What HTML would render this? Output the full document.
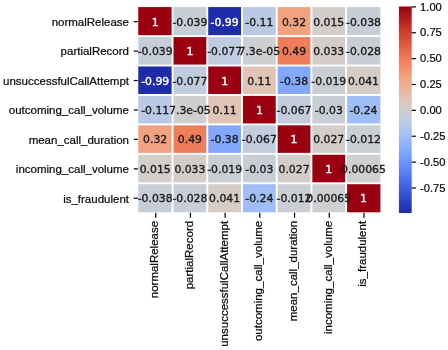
<!DOCTYPE html>
<html><head><meta charset="utf-8"><title>heatmap</title>
<style>
html,body{margin:0;padding:0;background:#fff;}
svg{display:block;filter:blur(0.3px);}
.t{font-family:"Liberation Sans",Arial,sans-serif;font-size:11.5px;fill:#0a0a0a;stroke:#0a0a0a;stroke-width:0.22px;}
.a{font-family:"DejaVu Sans","Liberation Sans",sans-serif;font-size:10.85px;text-anchor:middle;stroke-width:0.38px;}
.k{stroke:#0a0a0a;stroke-width:1.25;}
</style></head><body>
<svg width="448" height="350" viewBox="0 0 448 350">
<defs><linearGradient id="cb" x1="0" y1="1" x2="0" y2="0">
<stop offset="0.0000" stop-color="#1e2ca9"/><stop offset="0.0312" stop-color="#2538b9"/><stop offset="0.0625" stop-color="#2d45c8"/><stop offset="0.0938" stop-color="#3653d5"/><stop offset="0.1250" stop-color="#4060e1"/><stop offset="0.1562" stop-color="#4a6eeb"/><stop offset="0.1875" stop-color="#557bf3"/><stop offset="0.2188" stop-color="#6088fa"/><stop offset="0.2500" stop-color="#6c95fd"/><stop offset="0.2812" stop-color="#79a1ff"/><stop offset="0.3125" stop-color="#86acfe"/><stop offset="0.3438" stop-color="#93b5fb"/><stop offset="0.3750" stop-color="#a0bef6"/><stop offset="0.4062" stop-color="#acc4ef"/><stop offset="0.4375" stop-color="#b9cae6"/><stop offset="0.4688" stop-color="#c4cddb"/><stop offset="0.5000" stop-color="#cfcece"/><stop offset="0.5312" stop-color="#dbc9be"/><stop offset="0.5625" stop-color="#e4c1af"/><stop offset="0.5938" stop-color="#ebb89f"/><stop offset="0.6250" stop-color="#f0ae90"/><stop offset="0.6562" stop-color="#f3a281"/><stop offset="0.6875" stop-color="#f49572"/><stop offset="0.7188" stop-color="#f38764"/><stop offset="0.7500" stop-color="#ef7957"/><stop offset="0.7812" stop-color="#ea6a4b"/><stop offset="0.8125" stop-color="#e25b40"/><stop offset="0.8438" stop-color="#d94c35"/><stop offset="0.8750" stop-color="#cf3d2c"/><stop offset="0.9062" stop-color="#c32e23"/><stop offset="0.9375" stop-color="#b51f1c"/><stop offset="0.9688" stop-color="#a70f15"/><stop offset="1.0000" stop-color="#9a0110"/>
</linearGradient></defs>
<rect x="0" y="0" width="448" height="350" fill="#fff"/>
<rect x="138.25" y="7.07" width="33.36" height="28.08" fill="#9a0110"/>
<rect x="173.51" y="7.07" width="32.81" height="28.08" fill="#c7ced7"/>
<rect x="208.22" y="7.07" width="32.81" height="28.08" fill="#1e2ca9"/>
<rect x="242.93" y="7.07" width="32.81" height="28.08" fill="#bacae4"/>
<rect x="277.64" y="7.07" width="32.81" height="28.08" fill="#f3a281"/>
<rect x="312.35" y="7.07" width="32.81" height="28.08" fill="#d1cecc"/>
<rect x="347.06" y="7.07" width="33.36" height="28.08" fill="#c7ced7"/>
<rect x="138.25" y="37.05" width="33.36" height="27.53" fill="#c7ced7"/>
<rect x="173.51" y="37.05" width="32.81" height="27.53" fill="#9a0110"/>
<rect x="208.22" y="37.05" width="32.81" height="27.53" fill="#c0ccdf"/>
<rect x="242.93" y="37.05" width="32.81" height="27.53" fill="#cecfd0"/>
<rect x="277.64" y="37.05" width="32.81" height="27.53" fill="#f07d5a"/>
<rect x="312.35" y="37.05" width="32.81" height="27.53" fill="#d4ccc8"/>
<rect x="347.06" y="37.05" width="33.36" height="27.53" fill="#c9ced6"/>
<rect x="138.25" y="66.48" width="33.36" height="27.53" fill="#1e2ca9"/>
<rect x="173.51" y="66.48" width="32.81" height="27.53" fill="#c0ccdf"/>
<rect x="208.22" y="66.48" width="32.81" height="27.53" fill="#9a0110"/>
<rect x="242.93" y="66.48" width="32.81" height="27.53" fill="#e1c4b5"/>
<rect x="277.64" y="66.48" width="32.81" height="27.53" fill="#83a9fe"/>
<rect x="312.35" y="66.48" width="32.81" height="27.53" fill="#caced4"/>
<rect x="347.06" y="66.48" width="33.36" height="27.53" fill="#d5ccc6"/>
<rect x="138.25" y="95.91" width="33.36" height="27.53" fill="#bacae4"/>
<rect x="173.51" y="95.91" width="32.81" height="27.53" fill="#cecfd0"/>
<rect x="208.22" y="95.91" width="32.81" height="27.53" fill="#e1c4b5"/>
<rect x="242.93" y="95.91" width="32.81" height="27.53" fill="#9a0110"/>
<rect x="277.64" y="95.91" width="32.81" height="27.53" fill="#c2ccdd"/>
<rect x="312.35" y="95.91" width="32.81" height="27.53" fill="#c9ced6"/>
<rect x="347.06" y="95.91" width="33.36" height="27.53" fill="#a0bef6"/>
<rect x="138.25" y="125.34" width="33.36" height="27.53" fill="#f3a281"/>
<rect x="173.51" y="125.34" width="32.81" height="27.53" fill="#f07d5a"/>
<rect x="208.22" y="125.34" width="32.81" height="27.53" fill="#83a9fe"/>
<rect x="242.93" y="125.34" width="32.81" height="27.53" fill="#c2ccdd"/>
<rect x="277.64" y="125.34" width="32.81" height="27.53" fill="#9a0110"/>
<rect x="312.35" y="125.34" width="32.81" height="27.53" fill="#d2cdca"/>
<rect x="347.06" y="125.34" width="33.36" height="27.53" fill="#cbced3"/>
<rect x="138.25" y="154.77" width="33.36" height="27.53" fill="#d1cecc"/>
<rect x="173.51" y="154.77" width="32.81" height="27.53" fill="#d4ccc8"/>
<rect x="208.22" y="154.77" width="32.81" height="27.53" fill="#caced4"/>
<rect x="242.93" y="154.77" width="32.81" height="27.53" fill="#c9ced6"/>
<rect x="277.64" y="154.77" width="32.81" height="27.53" fill="#d2cdca"/>
<rect x="312.35" y="154.77" width="32.81" height="27.53" fill="#9a0110"/>
<rect x="347.06" y="154.77" width="33.36" height="27.53" fill="#cecfd0"/>
<rect x="138.25" y="184.20" width="33.36" height="28.08" fill="#c7ced7"/>
<rect x="173.51" y="184.20" width="32.81" height="28.08" fill="#c9ced6"/>
<rect x="208.22" y="184.20" width="32.81" height="28.08" fill="#d5ccc6"/>
<rect x="242.93" y="184.20" width="32.81" height="28.08" fill="#a0bef6"/>
<rect x="277.64" y="184.20" width="32.81" height="28.08" fill="#cbced3"/>
<rect x="312.35" y="184.20" width="32.81" height="28.08" fill="#cecfd0"/>
<rect x="347.06" y="184.20" width="33.36" height="28.08" fill="#9a0110"/>
<text class="a" x="155.20" y="25.70" fill="#fff" stroke="#fff">1</text>
<text class="a" x="189.91" y="25.70" fill="#1e1e1e" stroke="#1e1e1e">-0.039</text>
<text class="a" x="224.62" y="25.70" fill="#fff" stroke="#fff">-0.99</text>
<text class="a" x="259.33" y="25.70" fill="#1e1e1e" stroke="#1e1e1e">-0.11</text>
<text class="a" x="294.04" y="25.70" fill="#1e1e1e" stroke="#1e1e1e">0.32</text>
<text class="a" x="328.75" y="25.70" fill="#1e1e1e" stroke="#1e1e1e">0.015</text>
<text class="a" x="363.47" y="25.70" fill="#1e1e1e" stroke="#1e1e1e">-0.038</text>
<text class="a" x="155.20" y="55.13" fill="#1e1e1e" stroke="#1e1e1e">-0.039</text>
<text class="a" x="189.91" y="55.13" fill="#fff" stroke="#fff">1</text>
<text class="a" x="224.62" y="55.13" fill="#1e1e1e" stroke="#1e1e1e">-0.077</text>
<text class="a" x="259.33" y="55.13" fill="#1e1e1e" stroke="#1e1e1e">7.3e-05</text>
<text class="a" x="294.04" y="55.13" fill="#1e1e1e" stroke="#1e1e1e">0.49</text>
<text class="a" x="328.75" y="55.13" fill="#1e1e1e" stroke="#1e1e1e">0.033</text>
<text class="a" x="363.47" y="55.13" fill="#1e1e1e" stroke="#1e1e1e">-0.028</text>
<text class="a" x="155.20" y="84.56" fill="#fff" stroke="#fff">-0.99</text>
<text class="a" x="189.91" y="84.56" fill="#1e1e1e" stroke="#1e1e1e">-0.077</text>
<text class="a" x="224.62" y="84.56" fill="#fff" stroke="#fff">1</text>
<text class="a" x="259.33" y="84.56" fill="#1e1e1e" stroke="#1e1e1e">0.11</text>
<text class="a" x="294.04" y="84.56" fill="#1e1e1e" stroke="#1e1e1e">-0.38</text>
<text class="a" x="328.75" y="84.56" fill="#1e1e1e" stroke="#1e1e1e">-0.019</text>
<text class="a" x="363.47" y="84.56" fill="#1e1e1e" stroke="#1e1e1e">0.041</text>
<text class="a" x="155.20" y="113.99" fill="#1e1e1e" stroke="#1e1e1e">-0.11</text>
<text class="a" x="189.91" y="113.99" fill="#1e1e1e" stroke="#1e1e1e">7.3e-05</text>
<text class="a" x="224.62" y="113.99" fill="#1e1e1e" stroke="#1e1e1e">0.11</text>
<text class="a" x="259.33" y="113.99" fill="#fff" stroke="#fff">1</text>
<text class="a" x="294.04" y="113.99" fill="#1e1e1e" stroke="#1e1e1e">-0.067</text>
<text class="a" x="328.75" y="113.99" fill="#1e1e1e" stroke="#1e1e1e">-0.03</text>
<text class="a" x="363.47" y="113.99" fill="#1e1e1e" stroke="#1e1e1e">-0.24</text>
<text class="a" x="155.20" y="143.42" fill="#1e1e1e" stroke="#1e1e1e">0.32</text>
<text class="a" x="189.91" y="143.42" fill="#1e1e1e" stroke="#1e1e1e">0.49</text>
<text class="a" x="224.62" y="143.42" fill="#1e1e1e" stroke="#1e1e1e">-0.38</text>
<text class="a" x="259.33" y="143.42" fill="#1e1e1e" stroke="#1e1e1e">-0.067</text>
<text class="a" x="294.04" y="143.42" fill="#fff" stroke="#fff">1</text>
<text class="a" x="328.75" y="143.42" fill="#1e1e1e" stroke="#1e1e1e">0.027</text>
<text class="a" x="363.47" y="143.42" fill="#1e1e1e" stroke="#1e1e1e">-0.012</text>
<text class="a" x="155.20" y="172.85" fill="#1e1e1e" stroke="#1e1e1e">0.015</text>
<text class="a" x="189.91" y="172.85" fill="#1e1e1e" stroke="#1e1e1e">0.033</text>
<text class="a" x="224.62" y="172.85" fill="#1e1e1e" stroke="#1e1e1e">-0.019</text>
<text class="a" x="259.33" y="172.85" fill="#1e1e1e" stroke="#1e1e1e">-0.03</text>
<text class="a" x="294.04" y="172.85" fill="#1e1e1e" stroke="#1e1e1e">0.027</text>
<text class="a" x="328.75" y="172.85" fill="#fff" stroke="#fff">1</text>
<text class="a" x="363.47" y="172.85" fill="#1e1e1e" stroke="#1e1e1e">0.00065</text>
<text class="a" x="155.20" y="202.28" fill="#1e1e1e" stroke="#1e1e1e">-0.038</text>
<text class="a" x="189.91" y="202.28" fill="#1e1e1e" stroke="#1e1e1e">-0.028</text>
<text class="a" x="224.62" y="202.28" fill="#1e1e1e" stroke="#1e1e1e">0.041</text>
<text class="a" x="259.33" y="202.28" fill="#1e1e1e" stroke="#1e1e1e">-0.24</text>
<text class="a" x="294.04" y="202.28" fill="#1e1e1e" stroke="#1e1e1e">-0.012</text>
<text class="a" x="328.75" y="202.28" fill="#1e1e1e" stroke="#1e1e1e">0.00065</text>
<text class="a" x="363.47" y="202.28" fill="#fff" stroke="#fff">1</text>
<line class="k" x1="133.75" y1="21.68" x2="137.85" y2="21.68"/>
<text class="t" text-anchor="end" x="129.00" y="26.00">normalRelease</text>
<line class="k" x1="133.75" y1="51.11" x2="137.85" y2="51.11"/>
<text class="t" text-anchor="end" x="129.00" y="55.43">partialRecord</text>
<line class="k" x1="133.75" y1="80.55" x2="137.85" y2="80.55"/>
<text class="t" text-anchor="end" x="129.00" y="84.86">unsuccessfulCallAttempt</text>
<line class="k" x1="133.75" y1="109.97" x2="137.85" y2="109.97"/>
<text class="t" text-anchor="end" x="129.00" y="114.29">outcoming_call_volume</text>
<line class="k" x1="133.75" y1="139.41" x2="137.85" y2="139.41"/>
<text class="t" text-anchor="end" x="129.00" y="143.72">mean_call_duration</text>
<line class="k" x1="133.75" y1="168.84" x2="137.85" y2="168.84"/>
<text class="t" text-anchor="end" x="129.00" y="173.15">incoming_call_volume</text>
<line class="k" x1="133.75" y1="198.26" x2="137.85" y2="198.26"/>
<text class="t" text-anchor="end" x="129.00" y="202.58">is_fraudulent</text>
<line class="k" x1="155.70" y1="212.68" x2="155.70" y2="217.68"/>
<text class="t" text-anchor="end" transform="translate(158.20,220.88) rotate(-90)">normalRelease</text>
<line class="k" x1="190.41" y1="212.68" x2="190.41" y2="217.68"/>
<text class="t" text-anchor="end" transform="translate(192.91,220.88) rotate(-90)">partialRecord</text>
<line class="k" x1="225.12" y1="212.68" x2="225.12" y2="217.68"/>
<text class="t" text-anchor="end" transform="translate(227.62,220.88) rotate(-90)">unsuccessfulCallAttempt</text>
<line class="k" x1="259.83" y1="212.68" x2="259.83" y2="217.68"/>
<text class="t" text-anchor="end" transform="translate(262.33,220.88) rotate(-90)">outcoming_call_volume</text>
<line class="k" x1="294.54" y1="212.68" x2="294.54" y2="217.68"/>
<text class="t" text-anchor="end" transform="translate(297.04,220.88) rotate(-90)">mean_call_duration</text>
<line class="k" x1="329.25" y1="212.68" x2="329.25" y2="217.68"/>
<text class="t" text-anchor="end" transform="translate(331.75,220.88) rotate(-90)">incoming_call_volume</text>
<line class="k" x1="363.97" y1="212.68" x2="363.97" y2="217.68"/>
<text class="t" text-anchor="end" transform="translate(366.47,220.88) rotate(-90)">is_fraudulent</text>
<rect x="398.90" y="6.50" width="12.80" height="206.50" fill="url(#cb)"/>
<line class="k" x1="411.70" y1="6.90" x2="415.90" y2="6.90"/>
<text class="t" style="font-size:11.15px" x="420.10" y="10.55">1.00</text>
<line class="k" x1="411.70" y1="32.77" x2="415.90" y2="32.77"/>
<text class="t" style="font-size:11.15px" x="420.10" y="36.41">0.75</text>
<line class="k" x1="411.70" y1="58.63" x2="415.90" y2="58.63"/>
<text class="t" style="font-size:11.15px" x="420.10" y="62.28">0.50</text>
<line class="k" x1="411.70" y1="84.50" x2="415.90" y2="84.50"/>
<text class="t" style="font-size:11.15px" x="420.10" y="88.15">0.25</text>
<line class="k" x1="411.70" y1="110.37" x2="415.90" y2="110.37"/>
<text class="t" style="font-size:11.15px" x="420.10" y="114.01">0.00</text>
<line class="k" x1="411.70" y1="136.23" x2="415.90" y2="136.23"/>
<text class="t" style="font-size:11.15px" x="420.10" y="139.88">-0.25</text>
<line class="k" x1="411.70" y1="162.10" x2="415.90" y2="162.10"/>
<text class="t" style="font-size:11.15px" x="420.10" y="165.75">-0.50</text>
<line class="k" x1="411.70" y1="187.97" x2="415.90" y2="187.97"/>
<text class="t" style="font-size:11.15px" x="420.10" y="191.61">-0.75</text>
</svg>
</body></html>
